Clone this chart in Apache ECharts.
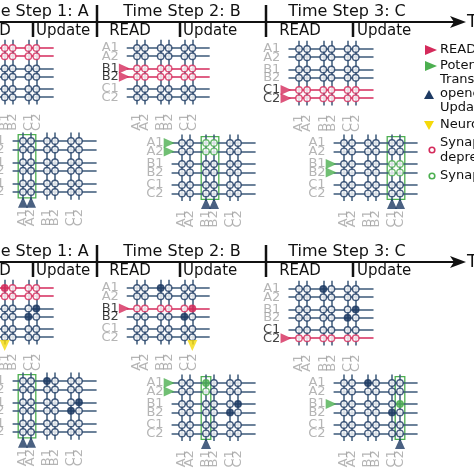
<!DOCTYPE html>
<html><head><meta charset="utf-8">
<script src="https://cdn.jsdelivr.net/npm/echarts@6/dist/echarts.min.js"></script>
<style>html,body{margin:0;padding:0;background:#fff}#c{width:474px;height:474px}</style>
</head><body><div id="c"></div>
<script>
const rowNames=['A1','A2','B1','B2','C1','C2'];
const colNames=['A1','A2','B1','B2','C1','C2'];
const rowPos=[0,1,2.5,3.5,5,6];
const colPos=[0,1,3,4,6,7];
const stepTitles=['Time Step 1: A','Time Step 2: B','Time Step 3: C'];
const readRows=[[[0,1],[2,3],[4,5]],[[0,1],[2],[5]]];
const blackRows=[[[0,1],[2,3],[4,5]],[[0,1],[2,3],[4,5]]];
const readFilled=[[[],[],[]],[[[0,2,'r'],[2,5,'n'],[3,4,'n']],[[0,2,'n'],[2,5,'r'],[3,4,'n']],[[0,2,'n'],[2,5,'n'],[3,4,'n']]]];
const spikeCol=[[null,null,null],[2,5,null]];
const potRows=[[[],[0,1],[2,3]],[[],[0,1],[2]]];
const updCols=[[[0,1],[2,3],[4,5]],[[0,1],[2],[5]]];
const updFilled=[[[],[],[]],[[[0,2,'n'],[2,5,'n'],[3,4,'n']],[[0,2,'g'],[2,5,'n'],[3,4,'n']],[[0,2,'n'],[2,5,'g'],[3,4,'n']]]];
const readLay=[[-19,48,7.9,8.2],[137,48,7.9,8.2],[299,49,8.1,8.2]];
const updLay=[[23,141,8,8.5],[182,143,8,8.4],[344,143,8,8.4]];
const HALF=240, W=474;
const NAVY='#1d3a63',LINE='#3b5878',RED='#d42a5b',GREEN='#4caf50',GRAY='#a3a3a3',YEL='#f5d90a';
const COL={r:RED,n:NAVY,g:GREEN};
const FONT='DejaVu Sans';

const grids=[],xAxes=[],yAxes=[],series=[];
function addMatrix(lay,dy,kind,h,s){
  const [ox,oy,ux,uy]=lay; const gi=grids.length;
  const xmin=Math.max(-3,-ox/ux),xmax=10,ymin=-1.5,ymax=9;
  const left=ox+xmin*ux,width=(xmax-xmin)*ux;
  grids.push({left:left,width:width,top:oy+dy+ymin*uy,height:(ymax-ymin)*uy});
  xAxes.push({gridIndex:gi,type:'value',min:xmin,max:xmax,show:false});
  yAxes.push({gridIndex:gi,type:'value',min:ymin,max:ymax,inverse:true,show:false});
  const rr=kind==='read'?readRows[h][s]:[];
  const uc=kind==='upd'?updCols[h][s]:[];
  const pr=kind==='upd'?potRows[h][s]:[];
  const filled=kind==='read'?readFilled[h][s]:updFilled[h][s];
  const segs=[];
  colPos.forEach(c=>segs.push({coords:[[c,-1],[c,6.9]],lineStyle:{color:LINE}}));
  rowPos.forEach((r,i)=>segs.push({coords:[[-1.3,r],[9.2,r]],lineStyle:{color:rr.includes(i)?RED:LINE}}));
  series.push({type:'lines',coordinateSystem:'cartesian2d',xAxisIndex:gi,yAxisIndex:gi,polyline:false,silent:true,clip:false,
    lineStyle:{width:1.5,opacity:1},data:segs,z:1});
  const nodes=[];
  rowPos.forEach((r,i)=>colPos.forEach((c,j)=>{
    const f=filled.find(d=>d[0]===i&&d[1]===j);
    let bc=NAVY;
    if(rr.includes(i))bc=RED;
    if(uc.includes(j)&&pr.includes(i))bc=GREEN;
    nodes.push({value:[c,r],itemStyle:{color:f?COL[f[2]]:'#fff',borderColor:f?COL[f[2]]:bc,borderWidth:1.4}});
  }));
  const nodeSeries={type:'scatter',xAxisIndex:gi,yAxisIndex:gi,symbol:'circle',symbolSize:6.5,data:nodes,z:3,clip:false,silent:true};
  if(uc.length){
    nodeSeries.markArea={silent:true,itemStyle:{color:'rgba(0,0,0,0)',borderColor:GREEN,borderWidth:1.3},
      data:[[{coord:[colPos[uc[0]]-0.6,-0.75]},{coord:[colPos[uc[uc.length-1]]+0.6,6.7]}]]};
  }
  series.push(nodeSeries);
  const blk=kind==='read'?blackRows[h][s]:[];
  series.push({type:'scatter',xAxisIndex:gi,yAxisIndex:gi,symbolSize:0,clip:false,silent:true,
    data:rowNames.map((n,i)=>({value:[-2.3,rowPos[i]],label:{show:true,formatter:n,position:'left',distance:0,
      color:blk.includes(i)?'#111':GRAY,fontSize:13,fontFamily:FONT}}))});
  series.push({type:'scatter',xAxisIndex:gi,yAxisIndex:gi,symbolSize:0,clip:false,silent:true,
    data:colNames.map((n,j)=>({value:[colPos[j],8],label:{show:true,formatter:n,rotate:90,position:'inside',align:'right',verticalAlign:'middle',
      color:GRAY,fontSize:13,fontFamily:FONT}}))});
  const tri=[];
  if(kind==='read'){
    rr.forEach(i=>tri.push({value:[-1.6,rowPos[i]],symbolRotate:-90,itemStyle:{color:RED}}));
    const sc=spikeCol[h][s];
    if(sc!==null)tri.push({value:[colPos[sc],7.0],symbolRotate:180,itemStyle:{color:YEL}});
  }else{
    pr.forEach(i=>tri.push({value:[-1.6,rowPos[i]],symbolRotate:-90,itemStyle:{color:GREEN}}));
    uc.forEach(j=>tri.push({value:[colPos[j],7.2],symbolRotate:0,itemStyle:{color:NAVY}}));
  }
  series.push({type:'scatter',xAxisIndex:gi,yAxisIndex:gi,symbol:'triangle',symbolSize:[10,11],clip:false,silent:true,data:tri,z:4});
}
for(let h=0;h<2;h++)for(let s=0;s<3;s++){
  addMatrix(readLay[s],h*HALF,'read',h,s);
  addMatrix(updLay[s],h*HALF,'upd',h,s);
}
const g=[];
const titleX=[30,182,347],majorX=[97,266],minorX=[33,180,353],readX=[-10,130,300],updX=[36,183,357];
for(let h=0;h<2;h++){
  const d=h*HALF;
  g.push({type:'line',shape:{x1:0,y1:22+d,x2:458,y2:22+d},style:{stroke:'#111',lineWidth:2}});
  g.push({type:'polygon',shape:{points:[[466,22+d],[450,16+d],[454,22+d],[450,28+d]]},style:{fill:'#111'}});
  g.push({type:'text',x:467,y:23+d,style:{text:'T',font:'17px '+FONT,fill:'#111',verticalAlign:'middle'}});
  majorX.forEach(x=>g.push({type:'line',shape:{x1:x,y1:5+d,x2:x,y2:37+d},style:{stroke:'#111',lineWidth:2.5}}));
  minorX.forEach(x=>g.push({type:'line',shape:{x1:x,y1:22+d,x2:x,y2:37+d},style:{stroke:'#111',lineWidth:2.5}}));
  stepTitles.forEach((t,i)=>g.push({type:'text',x:titleX[i],y:12+d,style:{text:t,font:'16px '+FONT,fill:'#111',align:'center',verticalAlign:'middle'}}));
  readX.forEach(x=>g.push({type:'text',x:x,y:31+d,style:{text:'READ',font:'15px '+FONT,fill:'#111',align:'center',verticalAlign:'middle'}}));
  updX.forEach(x=>g.push({type:'text',x:x,y:31+d,style:{text:'Update',font:'15px '+FONT,fill:'#111',verticalAlign:'middle'}}));
}
const lf='13px '+FONT;
const leg=[[50,'READ'],[66,'Potentiation'],[80,'Transistors'],[94,'opened for'],[108,'Update'],[125,'Neuron spike'],[143,'Synapse'],[158,'depressed'],[176,'Synapse potentiated']];
leg.forEach(([y,t])=>g.push({type:'text',x:440,y:y,style:{text:t,font:lf,fill:'#111',verticalAlign:'middle'}}));
g.push({type:'polygon',shape:{points:[[425,45],[437,50],[425,55]]},style:{fill:RED}});
g.push({type:'polygon',shape:{points:[[425,61],[437,66],[425,71]]},style:{fill:GREEN}});
g.push({type:'polygon',shape:{points:[[429,90],[434,99],[424,99]]},style:{fill:NAVY}});
g.push({type:'polygon',shape:{points:[[424,121],[434,121],[429,130]]},style:{fill:YEL}});
g.push({type:'circle',shape:{cx:432,cy:150,r:2.8},style:{fill:'#fff',stroke:RED,lineWidth:1.6}});
g.push({type:'circle',shape:{cx:432,cy:176,r:2.8},style:{fill:'#fff',stroke:GREEN,lineWidth:1.6}});

const chart=echarts.init(document.getElementById('c'));
chart.setOption({animation:false,backgroundColor:'#fff',grid:grids,xAxis:xAxes,yAxis:yAxes,series:series,graphic:g});
</script></body></html>
